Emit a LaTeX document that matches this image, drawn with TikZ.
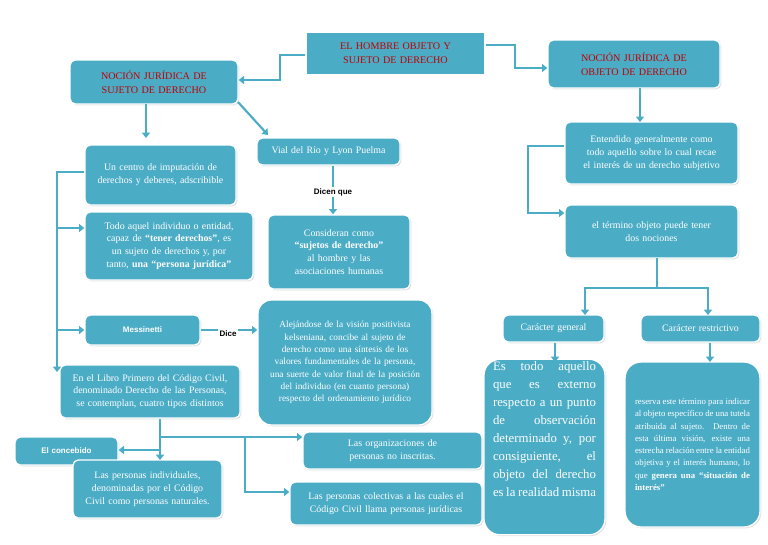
\documentclass[tikz,border=0pt]{standalone}
\usepackage{fontspec}
\setmainfont{Liberation Serif}
\newfontfamily\sansf{Liberation Sans}
\usetikzlibrary{shadows,arrows.meta}
\definecolor{bx}{HTML}{4BACC6}
\definecolor{ln}{HTML}{4BACC6}
\definecolor{rd}{HTML}{C00000}
\begin{document}
\begin{tikzpicture}[x=0.75pt,y=-0.75pt,
  box/.style={draw=white,line width=1pt,fill=bx,rounded corners=4pt,text=white,align=center,
    inner sep=1.5pt,font=\fontsize{7.4}{9.6}\selectfont,drop shadow={opacity=0.25,shadow xshift=1pt,shadow yshift=-1pt}},
  ttl/.style={box,text=rd,font=\fontsize{7.6}{10.5}\selectfont},
  sb/.style={box,font=\sansf\bfseries\fontsize{6}{7}\selectfont},
  lab/.style={font=\sansf\bfseries\fontsize{6}{7}\selectfont,text=black,inner sep=1pt},
  ar/.style={draw=ln,line width=1.6pt,-{Triangle[length=4pt,width=6pt]}},
  ln/.style={draw=ln,line width=1.6pt}]
\useasboundingbox (0,0) rectangle (768,544);
\hyphenpenalty=10000
\def\bx#1#2#3#4#5#6#7{\node[#1,minimum width={(#4-#3)*0.75pt},minimum height={(#6-#5)*0.75pt},text width={(#4-#3-12)*0.75pt}] (#2) at ({(#3+#4)/2},{(#5+#6)/2}) {#7};}
\def\bxw#1#2#3#4#5#6#7#8{\node[#1,minimum width={(#4-#3)*0.75pt},minimum height={(#6-#5)*0.75pt},text width={(#4-#3-#8)*0.75pt}] (#2) at ({(#3+#4)/2},{(#5+#6)/2}) {#7};}
\bx{ttl,rounded corners=0pt}{t}{306}{485}{32}{75}{EL HOMBRE OBJETO Y\\SUJETO DE DERECHO\\[3pt]}
\bx{ttl}{ns}{70}{238}{60}{104}{NOCIÓN JURÍDICA DE\\SUJETO DE DERECHO}
\bx{ttl}{no}{548}{720}{40}{88}{NOCIÓN JURÍDICA DE\\OBJETO DE DERECHO\\[2pt]}
\bx{box}{en}{565}{738}{122}{184}{Entendido generalmente como todo aquello sobre lo cual recae el interés de un derecho subjetivo\\[4pt]}
\bx{box}{te}{565}{738}{205}{258}{el término objeto puede tener\\dos nociones\\[6pt]}
\bx{box}{cg}{503}{604}{315}{342}{Carácter general}
\bx{box}{cr}{641}{760}{315}{342}{Carácter restrictivo}
\bxw{box,rounded corners=12pt,align=justify,font=\fontsize{9.6}{13.5}\selectfont}{es}{484}{605}{362}{532}{Es todo aquello que es externo respecto a un punto de observación determinado y, por consiguiente, el objeto del derecho es la realidad misma\\[14pt]}{18}
\bxw{box,rounded corners=12pt,align=justify,font=\fontsize{6.6}{9.2}\selectfont}{re}{625}{760}{362}{527}{reserva este término para indicar al objeto específico de una tutela atribuida al sujeto. Dentro de esta última visión, existe una estrecha relación entre la entidad objetiva y el interés humano, lo que \textbf{genera una “situación de interés”}}{20}
\bx{box}{uc}{85}{236}{145}{205}{Un centro de imputación de derechos y deberes, adscribible}
\bx{box}{vi}{257}{400}{138}{165}{Vial del Río y Lyon Puelma}
\node[lab] (dq) at (333,192) {Dicen que};
\bx{box}{co}{268}{410}{215}{289}{Consideran como\\\textbf{“sujetos de derecho”} al hombre y las asociaciones humanas}
\bx{box}{ta}{85}{253}{212}{280}{Todo aquel individuo o entidad, capaz de \textbf{“tener derechos”}, es un sujeto de derechos y, por tanto, \textbf{una “persona jurídica”}}
\bx{sb}{me}{85}{200}{315}{345}{Messinetti}
\node[lab] (di) at (228,334) {Dice};
\bx{box,rounded corners=10pt,font=\fontsize{7}{9.2}\selectfont}{al}{258}{432}{300}{425}{Alejándose de la visión positivista kelseniana, concibe al sujeto de derecho como una síntesis de los valores fundamentales de la persona, una suerte de valor final de la posición del individuo (en cuanto persona) respecto del ordenamiento jurídico}
\bx{box}{li}{60}{240}{365}{418}{En el Libro Primero del Código Civil, denominado Derecho de las Personas, se contemplan, cuatro tipos distintos}
\bx{sb}{ec}{15}{118}{437}{465}{El concebido}
\bx{box}{pi}{73}{222}{460}{518}{Las personas individuales, denominadas por el Código Civil como personas naturales.}
\bx{box}{or}{303}{482}{432}{469}{Las organizaciones de personas no inscritas.}
\bx{box}{pc}{290}{482}{482}{525}{Las personas colectivas a las cuales el Código Civil llama personas jurídicas}
% connectors
\draw[ar] (t.west|-0,55) -| (280,80) -- (ns.east|-0,80);
\draw[ar] (t.east|-0,45) -| (515,68) -- (no.west|-0,68);
\draw[ar] (146,104) -- (146,138);
\draw[ar] (238,102) -- (268,135);
\draw[ln] (vi.south-|333,0) -- (dq.north-|333,0);
\draw[ar] (dq.south-|333,0) -- (co.north-|333,0);
\draw[ln] (uc.west|-0,172) -- (57,172) -- (57,362);
\draw[ar] (57,228) -- (ta.west|-0,228);
\draw[ar] (57,330) -- (me.west|-0,330);
\draw[ar] (57,355) -- (57,372);
\draw[ln] (me.east|-0,330) -- (di.west|-0,330);
\draw[ar] (di.east|-0,330) -- (al.west|-0,330);
\draw[ar] (li.south-|160,0) -- (160,460);
\draw[ar] (160,450) -- (ec.east|-0,450);
\draw[ar] (160,437) -- (or.west|-0,437);
\draw[ar] (245,437) |- (pc.west|-0,492);
\draw[ar] (640,88) -- (640,122);
\draw[ar] (en.west|-0,146) -| (528,213) -- (te.west|-0,213);
\draw[ln] (657,258) -- (657,288);
\draw[ar] (708,288) -| (585,315);
\draw[ar] (657,288) -| (708,315);
\draw[ar] (cg.south-|555,0) -- (555,362);
\draw[ar] (cr.south-|710,0) -- (710,362);
\end{tikzpicture}
\end{document}
